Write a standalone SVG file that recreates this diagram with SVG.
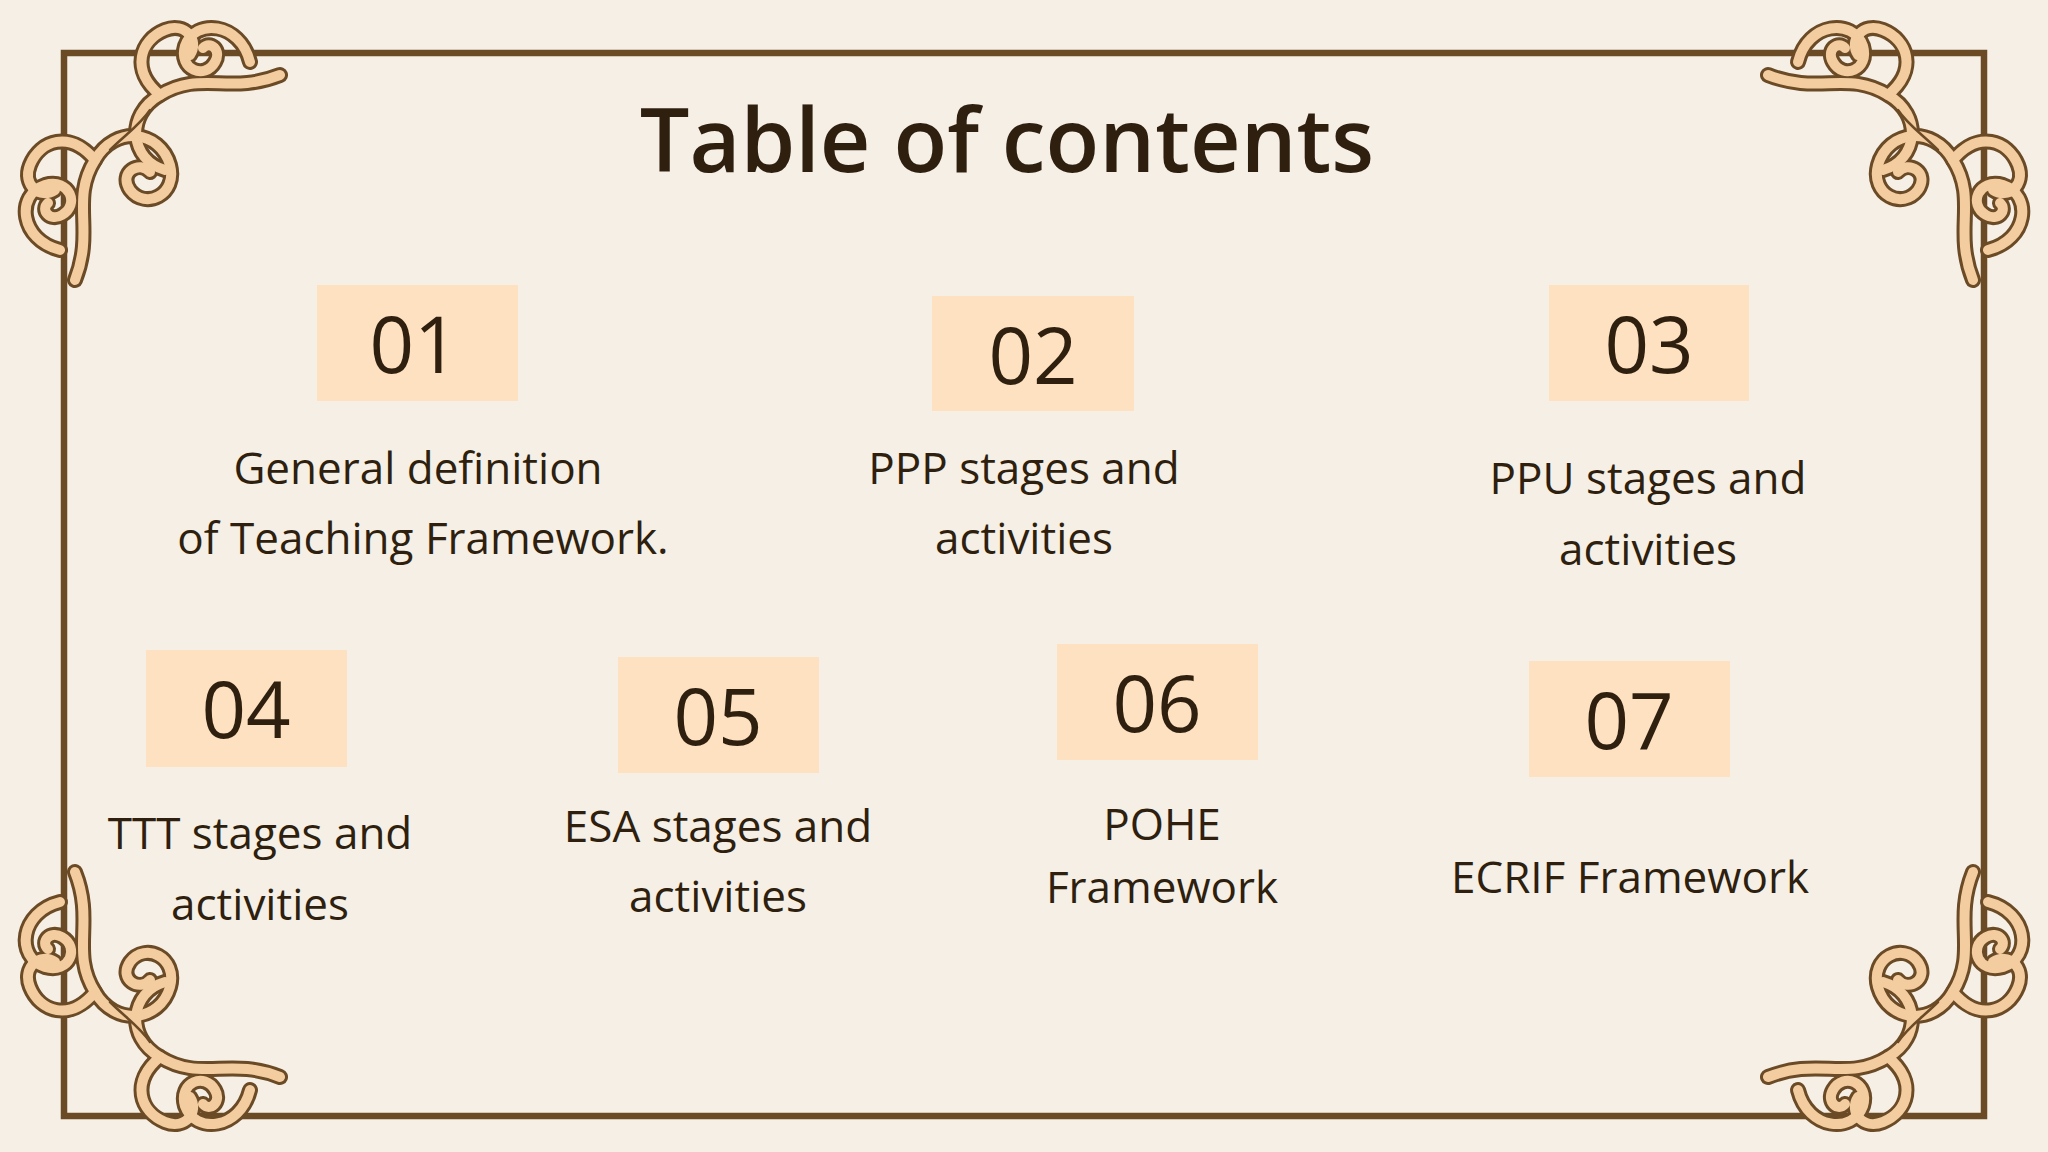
<svg xmlns="http://www.w3.org/2000/svg" width="2048" height="1152" viewBox="0 0 2048 1152">
<style>
.box{fill:#fde1c0}
.num{font-family:"Open Sans",sans-serif;font-size:78px;fill:#2e1f0f;text-anchor:middle;font-weight:500}
.lbl{font-family:"Open Sans",sans-serif;font-size:44px;fill:#2e1f0f;text-anchor:middle;font-weight:500}
.ob{fill:none;stroke:#6b4a26;stroke-width:16;stroke-linecap:round}
.of{fill:none;stroke:#f3cda0;stroke-width:10;stroke-linecap:round}
.ornl{fill:none;stroke:#6b4a26;stroke-width:2.5;stroke-linecap:round}
</style>
<defs>
<g id="sc">
<path d="M60,250 C20,240 15,195 45,185 C70,178 80,205 62,215 C50,222 40,210 48,203"/>
<path d="M75,280 C95,230 70,200 95,160 C115,125 160,130 170,165 C178,195 145,210 130,190 C118,172 140,160 150,172"/>
<path d="M250,62 C240,22 195,18 185,46 C178,70 205,80 215,62 C222,50 210,40 203,48"/>
<path d="M280,75 C230,95 200,70 160,95 C125,115 130,160 165,170"/>
<path d="M95,160 C70,130 40,140 30,165 C22,185 40,200 55,190"/>
<path d="M160,95 C130,70 140,40 165,30 C185,22 200,40 190,55"/>
</g>
<g id="corner">
<use href="#sc" class="ob"/>
<use href="#sc" class="of"/>
<path class="ornl" d="M110,150 C125,135 140,125 150,110"/>
</g>
</defs>
<rect width="2048" height="1152" fill="#f5efe6"/>
<rect x="64" y="53" width="1920" height="1063" fill="none" stroke="#6b4a26" stroke-width="6.5"/>
<g id="ornaments">
<use href="#corner"/>
<use href="#corner" transform="translate(2048,0) scale(-1,1)"/>
<use href="#corner" transform="translate(0,1152) scale(1,-1)"/>
<use href="#corner" transform="translate(2048,1152) scale(-1,-1)"/>
</g>
<text id="title" x="1007" y="172" font-family="'Open Sans',sans-serif" font-size="88" font-weight="600" fill="#2e1f0f" text-anchor="middle">Table of contents</text>
<g id="n1"><rect class="box" x="317" y="285" width="201" height="116"/><text class="num" x="414" y="373">01</text>
<text class="lbl" x="418" y="484">General definition</text><text class="lbl" x="423" y="554">of Teaching Framework.</text></g>
<g id="n2"><rect class="box" x="932" y="296" width="202" height="115"/><text class="num" x="1033" y="384">02</text>
<text class="lbl" x="1024" y="484">PPP stages and</text><text class="lbl" x="1024" y="554">activities</text></g>
<g id="n3"><rect class="box" x="1549" y="285" width="200" height="116"/><text class="num" x="1649" y="373">03</text>
<text class="lbl" x="1648" y="494">PPU stages and</text><text class="lbl" x="1648" y="565">activities</text></g>
<g id="n4"><rect class="box" x="146" y="650" width="201" height="117"/><text class="num" x="246" y="738">04</text>
<text class="lbl" x="260" y="849">TTT stages and</text><text class="lbl" x="260" y="920">activities</text></g>
<g id="n5"><rect class="box" x="618" y="657" width="201" height="116"/><text class="num" x="718" y="745">05</text>
<text class="lbl" x="718" y="842">ESA stages and</text><text class="lbl" x="718" y="912">activities</text></g>
<g id="n6"><rect class="box" x="1057" y="644" width="201" height="116"/><text class="num" x="1157" y="732">06</text>
<text class="lbl" x="1162" y="840">POHE</text><text class="lbl" x="1162" y="903">Framework</text></g>
<g id="n7"><rect class="box" x="1529" y="661" width="201" height="116"/><text class="num" x="1629" y="749">07</text>
<text class="lbl" x="1630" y="893">ECRIF Framework</text></g>
<g id="connectors"/>
</svg>
